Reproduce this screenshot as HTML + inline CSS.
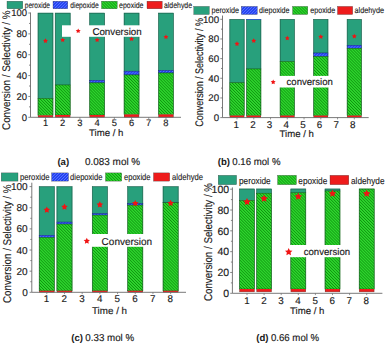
<!DOCTYPE html>
<html><head><meta charset="utf-8"><style>
html,body{margin:0;padding:0;background:#fff;}
svg{display:block;font-family:"Liberation Sans", sans-serif;text-rendering:geometricPrecision;}
</style></head><body>
<svg width="386" height="345" viewBox="0 0 386 345">
<defs>
<pattern id="grn" patternUnits="userSpaceOnUse" width="2.1" height="3" patternTransform="rotate(-45)">
<rect width="2.1" height="3" fill="#30da30"/><rect width="0.8" height="3" fill="#0e920e"/>
</pattern>
<pattern id="blu" patternUnits="userSpaceOnUse" width="2.1" height="3" patternTransform="rotate(45)">
<rect width="2.1" height="3" fill="#1f3cf0"/><rect width="0.8" height="3" fill="#5a78ff"/>
</pattern>
<pattern id="blub" patternUnits="userSpaceOnUse" width="2.1" height="3" patternTransform="rotate(-45)">
<rect width="2.1" height="3" fill="#2848ff"/><rect width="0.8" height="3" fill="#1428b0"/>
</pattern>
</defs>
<rect x="37.95" y="13.00" width="15.10" height="85.53" fill="#28a07c" stroke="#1f6f58" stroke-width="0.5"/>
<rect x="37.95" y="98.53" width="15.10" height="16.90" fill="url(#grn)" stroke="#0a600a" stroke-width="0.5"/>
<rect x="37.95" y="115.42" width="15.10" height="1.88" fill="#ee1c1c"/>
<rect x="38.20" y="13.25" width="14.60" height="104.05" fill="none" stroke="#1d4a3c" stroke-opacity="0.55" stroke-width="0.5"/>
<rect x="55.16" y="13.00" width="15.10" height="71.97" fill="#28a07c" stroke="#1f6f58" stroke-width="0.5"/>
<rect x="55.16" y="84.97" width="15.10" height="30.04" fill="url(#grn)" stroke="#0a600a" stroke-width="0.5"/>
<rect x="55.16" y="115.01" width="15.10" height="2.29" fill="#ee1c1c"/>
<rect x="55.41" y="13.25" width="14.60" height="104.05" fill="none" stroke="#1d4a3c" stroke-opacity="0.55" stroke-width="0.5"/>
<rect x="89.58" y="13.00" width="15.10" height="67.38" fill="#28a07c" stroke="#1f6f58" stroke-width="0.5"/>
<rect x="89.58" y="80.38" width="15.10" height="2.50" fill="url(#blu)" stroke="#10208a" stroke-width="0.5"/>
<rect x="89.58" y="82.88" width="15.10" height="32.12" fill="url(#grn)" stroke="#0a600a" stroke-width="0.5"/>
<rect x="89.58" y="115.01" width="15.10" height="2.29" fill="#ee1c1c"/>
<rect x="89.83" y="13.25" width="14.60" height="104.05" fill="none" stroke="#1d4a3c" stroke-opacity="0.55" stroke-width="0.5"/>
<rect x="124.00" y="13.00" width="15.10" height="58.20" fill="#28a07c" stroke="#1f6f58" stroke-width="0.5"/>
<rect x="124.00" y="71.20" width="15.10" height="3.75" fill="url(#blu)" stroke="#10208a" stroke-width="0.5"/>
<rect x="124.00" y="74.95" width="15.10" height="39.53" fill="url(#grn)" stroke="#0a600a" stroke-width="0.5"/>
<rect x="124.00" y="114.48" width="15.10" height="2.82" fill="#ee1c1c"/>
<rect x="124.25" y="13.25" width="14.60" height="104.05" fill="none" stroke="#1d4a3c" stroke-opacity="0.55" stroke-width="0.5"/>
<rect x="158.42" y="13.00" width="15.10" height="57.47" fill="#28a07c" stroke="#1f6f58" stroke-width="0.5"/>
<rect x="158.42" y="70.47" width="15.10" height="2.50" fill="url(#blu)" stroke="#10208a" stroke-width="0.5"/>
<rect x="158.42" y="72.97" width="15.10" height="41.51" fill="url(#grn)" stroke="#0a600a" stroke-width="0.5"/>
<rect x="158.42" y="114.48" width="15.10" height="2.82" fill="#ee1c1c"/>
<rect x="158.67" y="13.25" width="14.60" height="104.05" fill="none" stroke="#1d4a3c" stroke-opacity="0.55" stroke-width="0.5"/>
<rect x="62" y="25.3" width="94" height="11.499999999999996" fill="#fff"/>
<polygon points="45.50,38.30 46.26,39.85 47.97,40.10 46.74,41.30 47.03,43.00 45.50,42.20 43.97,43.00 44.26,41.30 43.03,40.10 44.74,39.85" fill="#f01414"/>
<polygon points="62.71,37.40 63.47,38.95 65.18,39.20 63.95,40.40 64.24,42.10 62.71,41.30 61.18,42.10 61.47,40.40 60.24,39.20 61.95,38.95" fill="#f01414"/>
<polygon points="97.13,37.40 97.89,38.95 99.60,39.20 98.37,40.40 98.66,42.10 97.13,41.30 95.60,42.10 95.89,40.40 94.66,39.20 96.37,38.95" fill="#f01414"/>
<polygon points="131.55,36.40 132.31,37.95 134.02,38.20 132.79,39.40 133.08,41.10 131.55,40.30 130.02,41.10 130.31,39.40 129.08,38.20 130.79,37.95" fill="#f01414"/>
<polygon points="165.97,34.40 166.73,35.95 168.44,36.20 167.21,37.40 167.50,39.10 165.97,38.30 164.44,39.10 164.73,37.40 163.50,36.20 165.21,35.95" fill="#f01414"/>
<polygon points="78.20,28.40 78.96,29.95 80.67,30.20 79.44,31.40 79.73,33.10 78.20,32.30 76.67,33.10 76.96,31.40 75.73,30.20 77.44,29.95" fill="#f01414"/>
<text x="92.4" y="34.6" font-size="9.75" text-anchor="start" font-weight="normal" stroke="#1a1a1a" stroke-width="0.15" fill="#1a1a1a">Conversion</text>
<line x1="30.5" y1="12.5" x2="30.5" y2="117.3" stroke="#6a6a6a" stroke-width="0.9"/>
<line x1="30.5" y1="117.3" x2="181" y2="117.3" stroke="#6a6a6a" stroke-width="0.9"/>
<line x1="28.3" y1="117.30" x2="30.5" y2="117.30" stroke="#6a6a6a" stroke-width="0.8"/>
<line x1="29.0" y1="106.87" x2="30.5" y2="106.87" stroke="#6a6a6a" stroke-width="0.8"/>
<line x1="28.3" y1="96.44" x2="30.5" y2="96.44" stroke="#6a6a6a" stroke-width="0.8"/>
<line x1="29.0" y1="86.01" x2="30.5" y2="86.01" stroke="#6a6a6a" stroke-width="0.8"/>
<line x1="28.3" y1="75.58" x2="30.5" y2="75.58" stroke="#6a6a6a" stroke-width="0.8"/>
<line x1="29.0" y1="65.15" x2="30.5" y2="65.15" stroke="#6a6a6a" stroke-width="0.8"/>
<line x1="28.3" y1="54.72" x2="30.5" y2="54.72" stroke="#6a6a6a" stroke-width="0.8"/>
<line x1="29.0" y1="44.29" x2="30.5" y2="44.29" stroke="#6a6a6a" stroke-width="0.8"/>
<line x1="28.3" y1="33.86" x2="30.5" y2="33.86" stroke="#6a6a6a" stroke-width="0.8"/>
<line x1="29.0" y1="23.43" x2="30.5" y2="23.43" stroke="#6a6a6a" stroke-width="0.8"/>
<line x1="28.3" y1="13.00" x2="30.5" y2="13.00" stroke="#6a6a6a" stroke-width="0.8"/>
<text x="27.0" y="120.72" font-size="9.5" text-anchor="end" font-weight="normal" stroke="#1a1a1a" stroke-width="0.15" fill="#1a1a1a">0</text>
<text x="27.0" y="99.86" font-size="9.5" text-anchor="end" font-weight="normal" stroke="#1a1a1a" stroke-width="0.15" fill="#1a1a1a">20</text>
<text x="27.0" y="79.00" font-size="9.5" text-anchor="end" font-weight="normal" stroke="#1a1a1a" stroke-width="0.15" fill="#1a1a1a">40</text>
<text x="27.0" y="58.14" font-size="9.5" text-anchor="end" font-weight="normal" stroke="#1a1a1a" stroke-width="0.15" fill="#1a1a1a">60</text>
<text x="27.0" y="37.28" font-size="9.5" text-anchor="end" font-weight="normal" stroke="#1a1a1a" stroke-width="0.15" fill="#1a1a1a">80</text>
<text x="27.0" y="16.42" font-size="9.5" text-anchor="end" font-weight="normal" stroke="#1a1a1a" stroke-width="0.15" fill="#1a1a1a">100</text>
<line x1="45.50" y1="117.3" x2="45.50" y2="119.10" stroke="#6a6a6a" stroke-width="0.7"/>
<line x1="62.71" y1="117.3" x2="62.71" y2="119.10" stroke="#6a6a6a" stroke-width="0.7"/>
<line x1="79.92" y1="117.3" x2="79.92" y2="119.10" stroke="#6a6a6a" stroke-width="0.7"/>
<line x1="97.13" y1="117.3" x2="97.13" y2="119.10" stroke="#6a6a6a" stroke-width="0.7"/>
<line x1="114.34" y1="117.3" x2="114.34" y2="119.10" stroke="#6a6a6a" stroke-width="0.7"/>
<line x1="131.55" y1="117.3" x2="131.55" y2="119.10" stroke="#6a6a6a" stroke-width="0.7"/>
<line x1="148.76" y1="117.3" x2="148.76" y2="119.10" stroke="#6a6a6a" stroke-width="0.7"/>
<line x1="165.97" y1="117.3" x2="165.97" y2="119.10" stroke="#6a6a6a" stroke-width="0.7"/>
<text x="45.50" y="125.9" font-size="9.4" text-anchor="middle" font-weight="normal" stroke="#1a1a1a" stroke-width="0.15" fill="#1a1a1a">1</text>
<text x="62.70" y="125.9" font-size="9.4" text-anchor="middle" font-weight="normal" stroke="#1a1a1a" stroke-width="0.15" fill="#1a1a1a">2</text>
<text x="79.90" y="125.9" font-size="9.4" text-anchor="middle" font-weight="normal" stroke="#1a1a1a" stroke-width="0.15" fill="#1a1a1a">3</text>
<text x="97.10" y="125.9" font-size="9.4" text-anchor="middle" font-weight="normal" stroke="#1a1a1a" stroke-width="0.15" fill="#1a1a1a">4</text>
<text x="114.30" y="125.9" font-size="9.4" text-anchor="middle" font-weight="normal" stroke="#1a1a1a" stroke-width="0.15" fill="#1a1a1a">5</text>
<text x="131.50" y="125.9" font-size="9.4" text-anchor="middle" font-weight="normal" stroke="#1a1a1a" stroke-width="0.15" fill="#1a1a1a">6</text>
<text x="148.70" y="125.9" font-size="9.4" text-anchor="middle" font-weight="normal" stroke="#1a1a1a" stroke-width="0.15" fill="#1a1a1a">7</text>
<text x="165.90" y="125.9" font-size="9.4" text-anchor="middle" font-weight="normal" stroke="#1a1a1a" stroke-width="0.15" fill="#1a1a1a">8</text>
<text x="89" y="136" font-size="9.6" text-anchor="start" font-weight="normal" stroke="#1a1a1a" stroke-width="0.15" fill="#1a1a1a">Time / h</text>
<text transform="translate(10.0,130) rotate(-90)" font-size="11.0" textLength="119.6" lengthAdjust="spacingAndGlyphs" fill="#1a1a1a" stroke="#1a1a1a" stroke-width="0.15">Conversion / Selectivity / %</text>
<rect x="7" y="1.2" width="15.8" height="7.6" fill="#28a07c" stroke="#333" stroke-width="0.3"/>
<text x="24.8" y="7.8" font-size="8.2" textLength="25.2" lengthAdjust="spacingAndGlyphs" fill="#1a1a1a" stroke="#1a1a1a" stroke-width="0.12">peroxide</text>
<rect x="53" y="1.2" width="14.8" height="7.6" fill="url(#blu)" stroke="#333" stroke-width="0.3"/>
<text x="70.2" y="7.8" font-size="8.2" textLength="28.6" lengthAdjust="spacingAndGlyphs" fill="#1a1a1a" stroke="#1a1a1a" stroke-width="0.12">diepoxide</text>
<rect x="101.5" y="1.2" width="15.7" height="7.6" fill="url(#grn)" stroke="#333" stroke-width="0.3"/>
<text x="119" y="7.8" font-size="8.2" textLength="24.5" lengthAdjust="spacingAndGlyphs" fill="#1a1a1a" stroke="#1a1a1a" stroke-width="0.12">epoxide</text>
<rect x="147" y="1.2" width="15.2" height="7.6" fill="#ee1c1c" stroke="#333" stroke-width="0.3"/>
<text x="164" y="7.8" font-size="8.2" textLength="28" lengthAdjust="spacingAndGlyphs" fill="#1a1a1a" stroke="#1a1a1a" stroke-width="0.12">aldehyde</text>
<text x="57.4" y="164.8" font-size="9.60" font-weight="bold" fill="#1a1a1a">(a)</text>
<text x="85" y="164.8" font-size="10.0" textLength="55.2" lengthAdjust="spacingAndGlyphs" fill="#1a1a1a" stroke="#1a1a1a" stroke-width="0.15">0.083 mol %</text>
<rect x="229.75" y="19.30" width="14.50" height="63.50" fill="#28a07c" stroke="#1f6f58" stroke-width="0.5"/>
<rect x="229.75" y="82.80" width="14.50" height="32.83" fill="url(#grn)" stroke="#0a600a" stroke-width="0.5"/>
<rect x="229.75" y="115.63" width="14.50" height="1.97" fill="#ee1c1c"/>
<rect x="230.00" y="19.55" width="14.00" height="98.05" fill="none" stroke="#1d4a3c" stroke-opacity="0.55" stroke-width="0.5"/>
<rect x="246.51" y="19.30" width="14.50" height="49.64" fill="#28a07c" stroke="#1f6f58" stroke-width="0.5"/>
<rect x="246.51" y="68.94" width="14.50" height="46.69" fill="url(#grn)" stroke="#0a600a" stroke-width="0.5"/>
<rect x="246.51" y="115.63" width="14.50" height="1.97" fill="#ee1c1c"/>
<rect x="246.76" y="19.55" width="14.00" height="98.05" fill="none" stroke="#1d4a3c" stroke-opacity="0.55" stroke-width="0.5"/>
<rect x="280.03" y="19.30" width="14.50" height="42.27" fill="#28a07c" stroke="#1f6f58" stroke-width="0.5"/>
<rect x="280.03" y="61.57" width="14.50" height="54.07" fill="url(#grn)" stroke="#0a600a" stroke-width="0.5"/>
<rect x="280.03" y="115.63" width="14.50" height="1.97" fill="#ee1c1c"/>
<rect x="280.28" y="19.55" width="14.00" height="98.05" fill="none" stroke="#1d4a3c" stroke-opacity="0.55" stroke-width="0.5"/>
<rect x="313.55" y="19.30" width="14.50" height="33.72" fill="#28a07c" stroke="#1f6f58" stroke-width="0.5"/>
<rect x="313.55" y="53.02" width="14.50" height="3.54" fill="url(#blu)" stroke="#10208a" stroke-width="0.5"/>
<rect x="313.55" y="56.56" width="14.50" height="59.08" fill="url(#grn)" stroke="#0a600a" stroke-width="0.5"/>
<rect x="313.55" y="115.63" width="14.50" height="1.97" fill="#ee1c1c"/>
<rect x="313.80" y="19.55" width="14.00" height="98.05" fill="none" stroke="#1d4a3c" stroke-opacity="0.55" stroke-width="0.5"/>
<rect x="347.07" y="19.30" width="14.50" height="25.95" fill="#28a07c" stroke="#1f6f58" stroke-width="0.5"/>
<rect x="347.07" y="45.25" width="14.50" height="3.15" fill="url(#blu)" stroke="#10208a" stroke-width="0.5"/>
<rect x="347.07" y="48.40" width="14.50" height="67.24" fill="url(#grn)" stroke="#0a600a" stroke-width="0.5"/>
<rect x="347.07" y="115.63" width="14.50" height="1.97" fill="#ee1c1c"/>
<rect x="347.32" y="19.55" width="14.00" height="98.05" fill="none" stroke="#1d4a3c" stroke-opacity="0.55" stroke-width="0.5"/>
<rect x="246.51" y="19.30" width="14.50" height="0.59" fill="#2848ff"/>
<rect x="262" y="75.9" width="83" height="11.599999999999994" fill="#fff"/>
<polygon points="237.00,41.30 237.76,42.85 239.47,43.10 238.24,44.30 238.53,46.00 237.00,45.20 235.47,46.00 235.76,44.30 234.53,43.10 236.24,42.85" fill="#f01414"/>
<polygon points="253.76,38.20 254.52,39.75 256.23,40.00 255.00,41.20 255.29,42.90 253.76,42.10 252.23,42.90 252.52,41.20 251.29,40.00 253.00,39.75" fill="#f01414"/>
<polygon points="287.28,35.60 288.04,37.15 289.75,37.40 288.52,38.60 288.81,40.30 287.28,39.50 285.75,40.30 286.04,38.60 284.81,37.40 286.52,37.15" fill="#f01414"/>
<polygon points="320.80,34.20 321.56,35.75 323.27,36.00 322.04,37.20 322.33,38.90 320.80,38.10 319.27,38.90 319.56,37.20 318.33,36.00 320.04,35.75" fill="#f01414"/>
<polygon points="354.32,33.70 355.08,35.25 356.79,35.50 355.56,36.70 355.85,38.40 354.32,37.60 352.79,38.40 353.08,36.70 351.85,35.50 353.56,35.25" fill="#f01414"/>
<polygon points="273.20,79.50 273.96,81.05 275.67,81.30 274.44,82.50 274.73,84.20 273.20,83.40 271.67,84.20 271.96,82.50 270.73,81.30 272.44,81.05" fill="#f01414"/>
<text x="286.5" y="85.2" font-size="9.6" text-anchor="start" font-weight="normal" stroke="#1a1a1a" stroke-width="0.15" fill="#1a1a1a">conversion</text>
<line x1="222.5" y1="15.5" x2="222.5" y2="117.6" stroke="#6a6a6a" stroke-width="0.9"/>
<line x1="222.5" y1="117.6" x2="368.7" y2="117.6" stroke="#6a6a6a" stroke-width="0.9"/>
<line x1="220.3" y1="117.60" x2="222.5" y2="117.60" stroke="#6a6a6a" stroke-width="0.8"/>
<line x1="221.0" y1="107.77" x2="222.5" y2="107.77" stroke="#6a6a6a" stroke-width="0.8"/>
<line x1="220.3" y1="97.94" x2="222.5" y2="97.94" stroke="#6a6a6a" stroke-width="0.8"/>
<line x1="221.0" y1="88.11" x2="222.5" y2="88.11" stroke="#6a6a6a" stroke-width="0.8"/>
<line x1="220.3" y1="78.28" x2="222.5" y2="78.28" stroke="#6a6a6a" stroke-width="0.8"/>
<line x1="221.0" y1="68.45" x2="222.5" y2="68.45" stroke="#6a6a6a" stroke-width="0.8"/>
<line x1="220.3" y1="58.62" x2="222.5" y2="58.62" stroke="#6a6a6a" stroke-width="0.8"/>
<line x1="221.0" y1="48.79" x2="222.5" y2="48.79" stroke="#6a6a6a" stroke-width="0.8"/>
<line x1="220.3" y1="38.96" x2="222.5" y2="38.96" stroke="#6a6a6a" stroke-width="0.8"/>
<line x1="221.0" y1="29.13" x2="222.5" y2="29.13" stroke="#6a6a6a" stroke-width="0.8"/>
<line x1="220.3" y1="19.30" x2="222.5" y2="19.30" stroke="#6a6a6a" stroke-width="0.8"/>
<text x="219.1" y="121.09" font-size="9.7" text-anchor="end" font-weight="normal" stroke="#1a1a1a" stroke-width="0.15" fill="#1a1a1a">0</text>
<text x="219.1" y="101.43" font-size="9.7" text-anchor="end" font-weight="normal" stroke="#1a1a1a" stroke-width="0.15" fill="#1a1a1a">20</text>
<text x="219.1" y="81.77" font-size="9.7" text-anchor="end" font-weight="normal" stroke="#1a1a1a" stroke-width="0.15" fill="#1a1a1a">40</text>
<text x="219.1" y="62.11" font-size="9.7" text-anchor="end" font-weight="normal" stroke="#1a1a1a" stroke-width="0.15" fill="#1a1a1a">60</text>
<text x="219.1" y="42.45" font-size="9.7" text-anchor="end" font-weight="normal" stroke="#1a1a1a" stroke-width="0.15" fill="#1a1a1a">80</text>
<text x="219.1" y="22.79" font-size="9.7" text-anchor="end" font-weight="normal" stroke="#1a1a1a" stroke-width="0.15" fill="#1a1a1a">100</text>
<line x1="237.00" y1="117.6" x2="237.00" y2="119.40" stroke="#6a6a6a" stroke-width="0.7"/>
<line x1="253.76" y1="117.6" x2="253.76" y2="119.40" stroke="#6a6a6a" stroke-width="0.7"/>
<line x1="270.52" y1="117.6" x2="270.52" y2="119.40" stroke="#6a6a6a" stroke-width="0.7"/>
<line x1="287.28" y1="117.6" x2="287.28" y2="119.40" stroke="#6a6a6a" stroke-width="0.7"/>
<line x1="304.04" y1="117.6" x2="304.04" y2="119.40" stroke="#6a6a6a" stroke-width="0.7"/>
<line x1="320.80" y1="117.6" x2="320.80" y2="119.40" stroke="#6a6a6a" stroke-width="0.7"/>
<line x1="337.56" y1="117.6" x2="337.56" y2="119.40" stroke="#6a6a6a" stroke-width="0.7"/>
<line x1="354.32" y1="117.6" x2="354.32" y2="119.40" stroke="#6a6a6a" stroke-width="0.7"/>
<text x="236.30" y="128.0" font-size="9.8" text-anchor="middle" font-weight="normal" stroke="#1a1a1a" stroke-width="0.15" fill="#1a1a1a">1</text>
<text x="252.95" y="128.0" font-size="9.8" text-anchor="middle" font-weight="normal" stroke="#1a1a1a" stroke-width="0.15" fill="#1a1a1a">2</text>
<text x="269.60" y="128.0" font-size="9.8" text-anchor="middle" font-weight="normal" stroke="#1a1a1a" stroke-width="0.15" fill="#1a1a1a">3</text>
<text x="286.25" y="128.0" font-size="9.8" text-anchor="middle" font-weight="normal" stroke="#1a1a1a" stroke-width="0.15" fill="#1a1a1a">4</text>
<text x="302.90" y="128.0" font-size="9.8" text-anchor="middle" font-weight="normal" stroke="#1a1a1a" stroke-width="0.15" fill="#1a1a1a">5</text>
<text x="319.55" y="128.0" font-size="9.8" text-anchor="middle" font-weight="normal" stroke="#1a1a1a" stroke-width="0.15" fill="#1a1a1a">6</text>
<text x="336.20" y="128.0" font-size="9.8" text-anchor="middle" font-weight="normal" stroke="#1a1a1a" stroke-width="0.15" fill="#1a1a1a">7</text>
<text x="352.85" y="128.0" font-size="9.8" text-anchor="middle" font-weight="normal" stroke="#1a1a1a" stroke-width="0.15" fill="#1a1a1a">8</text>
<text x="279.5" y="136.8" font-size="9.6" text-anchor="start" font-weight="normal" stroke="#1a1a1a" stroke-width="0.15" fill="#1a1a1a">Time / h</text>
<text transform="translate(203.4,126.8) rotate(-90)" font-size="11.0" textLength="108.8" lengthAdjust="spacingAndGlyphs" fill="#1a1a1a" stroke="#1a1a1a" stroke-width="0.15">Conversion / Selectivity / %</text>
<rect x="193.8" y="6.4" width="15.5" height="8.1" fill="#28a07c" stroke="#333" stroke-width="0.3"/>
<text x="211.5" y="13.0" font-size="8.3" textLength="27.5" lengthAdjust="spacingAndGlyphs" fill="#1a1a1a" stroke="#1a1a1a" stroke-width="0.12">peroxide</text>
<rect x="241.3" y="6.4" width="16" height="8.1" fill="url(#blu)" stroke="#333" stroke-width="0.3"/>
<text x="259" y="13.0" font-size="8.3" textLength="30.5" lengthAdjust="spacingAndGlyphs" fill="#1a1a1a" stroke="#1a1a1a" stroke-width="0.12">diepoxide</text>
<rect x="292.6" y="6.4" width="15.2" height="8.1" fill="url(#grn)" stroke="#333" stroke-width="0.3"/>
<text x="310.3" y="13.0" font-size="8.3" textLength="24.9" lengthAdjust="spacingAndGlyphs" fill="#1a1a1a" stroke="#1a1a1a" stroke-width="0.12">epoxide</text>
<rect x="337.5" y="6.4" width="15.2" height="8.1" fill="#ee1c1c" stroke="#333" stroke-width="0.3"/>
<text x="354.5" y="13.0" font-size="8.3" textLength="29.5" lengthAdjust="spacingAndGlyphs" fill="#1a1a1a" stroke="#1a1a1a" stroke-width="0.12">aldehyde</text>
<text x="217.7" y="164.8" font-size="9.60" font-weight="bold" fill="#1a1a1a">(b)</text>
<text x="232.3" y="164.8" font-size="10.0" textLength="48.2" lengthAdjust="spacingAndGlyphs" fill="#1a1a1a" stroke="#1a1a1a" stroke-width="0.15">0.16 mol %</text>
<rect x="39.15" y="186.60" width="15.30" height="48.73" fill="#28a07c" stroke="#1f6f58" stroke-width="0.5"/>
<rect x="39.15" y="235.33" width="15.30" height="2.22" fill="url(#blu)" stroke="#10208a" stroke-width="0.5"/>
<rect x="39.15" y="237.55" width="15.30" height="53.27" fill="url(#grn)" stroke="#0a600a" stroke-width="0.5"/>
<rect x="39.15" y="290.82" width="15.30" height="1.48" fill="#ee1c1c"/>
<rect x="39.40" y="186.85" width="14.80" height="105.45" fill="none" stroke="#1d4a3c" stroke-opacity="0.55" stroke-width="0.5"/>
<rect x="56.84" y="186.60" width="15.30" height="35.52" fill="#28a07c" stroke="#1f6f58" stroke-width="0.5"/>
<rect x="56.84" y="222.12" width="15.30" height="2.01" fill="url(#blu)" stroke="#10208a" stroke-width="0.5"/>
<rect x="56.84" y="224.12" width="15.30" height="66.70" fill="url(#grn)" stroke="#0a600a" stroke-width="0.5"/>
<rect x="56.84" y="290.82" width="15.30" height="1.48" fill="#ee1c1c"/>
<rect x="57.09" y="186.85" width="14.80" height="105.45" fill="none" stroke="#1d4a3c" stroke-opacity="0.55" stroke-width="0.5"/>
<rect x="92.22" y="186.60" width="15.30" height="27.06" fill="#28a07c" stroke="#1f6f58" stroke-width="0.5"/>
<rect x="92.22" y="213.66" width="15.30" height="1.48" fill="url(#blu)" stroke="#10208a" stroke-width="0.5"/>
<rect x="92.22" y="215.14" width="15.30" height="75.68" fill="url(#grn)" stroke="#0a600a" stroke-width="0.5"/>
<rect x="92.22" y="290.82" width="15.30" height="1.48" fill="#ee1c1c"/>
<rect x="92.47" y="186.85" width="14.80" height="105.45" fill="none" stroke="#1d4a3c" stroke-opacity="0.55" stroke-width="0.5"/>
<rect x="127.60" y="186.60" width="15.30" height="17.02" fill="#28a07c" stroke="#1f6f58" stroke-width="0.5"/>
<rect x="127.60" y="203.62" width="15.30" height="1.48" fill="url(#blu)" stroke="#10208a" stroke-width="0.5"/>
<rect x="127.60" y="205.10" width="15.30" height="85.72" fill="url(#grn)" stroke="#0a600a" stroke-width="0.5"/>
<rect x="127.60" y="290.82" width="15.30" height="1.48" fill="#ee1c1c"/>
<rect x="127.85" y="186.85" width="14.80" height="105.45" fill="none" stroke="#1d4a3c" stroke-opacity="0.55" stroke-width="0.5"/>
<rect x="162.98" y="186.60" width="15.30" height="15.64" fill="#28a07c" stroke="#1f6f58" stroke-width="0.5"/>
<rect x="162.98" y="202.24" width="15.30" height="0.42" fill="url(#blu)" stroke="#10208a" stroke-width="0.5"/>
<rect x="162.98" y="202.67" width="15.30" height="88.15" fill="url(#grn)" stroke="#0a600a" stroke-width="0.5"/>
<rect x="162.98" y="290.82" width="15.30" height="1.48" fill="#ee1c1c"/>
<rect x="163.23" y="186.85" width="14.80" height="105.45" fill="none" stroke="#1d4a3c" stroke-opacity="0.55" stroke-width="0.5"/>
<rect x="74" y="234" width="86" height="12.800000000000011" fill="#fff"/>
<polygon points="46.80,206.60 47.80,208.62 50.03,208.95 48.42,210.53 48.80,212.75 46.80,211.70 44.80,212.75 45.18,210.53 43.57,208.95 45.80,208.62" fill="#f01414"/>
<polygon points="64.49,203.60 65.49,205.62 67.72,205.95 66.11,207.53 66.49,209.75 64.49,208.70 62.49,209.75 62.87,207.53 61.26,205.95 63.49,205.62" fill="#f01414"/>
<polygon points="99.87,201.30 100.87,203.32 103.10,203.65 101.49,205.23 101.87,207.45 99.87,206.40 97.87,207.45 98.25,205.23 96.64,203.65 98.87,203.32" fill="#f01414"/>
<polygon points="135.25,200.00 136.25,202.02 138.48,202.35 136.87,203.93 137.25,206.15 135.25,205.10 133.25,206.15 133.63,203.93 132.02,202.35 134.25,202.02" fill="#f01414"/>
<polygon points="170.63,199.80 171.63,201.82 173.86,202.15 172.25,203.73 172.63,205.95 170.63,204.90 168.63,205.95 169.01,203.73 167.40,202.15 169.63,201.82" fill="#f01414"/>
<polygon points="86.80,237.80 87.77,239.77 89.94,240.08 88.37,241.61 88.74,243.77 86.80,242.75 84.86,243.77 85.23,241.61 83.66,240.08 85.83,239.77" fill="#f01414"/>
<text x="101.6" y="244.7" font-size="10.0" text-anchor="start" font-weight="normal" stroke="#1a1a1a" stroke-width="0.15" fill="#1a1a1a">Conversion</text>
<line x1="31.8" y1="182.7" x2="31.8" y2="292.3" stroke="#6a6a6a" stroke-width="0.9"/>
<line x1="31.8" y1="292.3" x2="186" y2="292.3" stroke="#6a6a6a" stroke-width="0.9"/>
<line x1="29.6" y1="292.30" x2="31.8" y2="292.30" stroke="#6a6a6a" stroke-width="0.8"/>
<line x1="30.3" y1="281.73" x2="31.8" y2="281.73" stroke="#6a6a6a" stroke-width="0.8"/>
<line x1="29.6" y1="271.16" x2="31.8" y2="271.16" stroke="#6a6a6a" stroke-width="0.8"/>
<line x1="30.3" y1="260.59" x2="31.8" y2="260.59" stroke="#6a6a6a" stroke-width="0.8"/>
<line x1="29.6" y1="250.02" x2="31.8" y2="250.02" stroke="#6a6a6a" stroke-width="0.8"/>
<line x1="30.3" y1="239.45" x2="31.8" y2="239.45" stroke="#6a6a6a" stroke-width="0.8"/>
<line x1="29.6" y1="228.88" x2="31.8" y2="228.88" stroke="#6a6a6a" stroke-width="0.8"/>
<line x1="30.3" y1="218.31" x2="31.8" y2="218.31" stroke="#6a6a6a" stroke-width="0.8"/>
<line x1="29.6" y1="207.74" x2="31.8" y2="207.74" stroke="#6a6a6a" stroke-width="0.8"/>
<line x1="30.3" y1="197.17" x2="31.8" y2="197.17" stroke="#6a6a6a" stroke-width="0.8"/>
<line x1="29.6" y1="186.60" x2="31.8" y2="186.60" stroke="#6a6a6a" stroke-width="0.8"/>
<text x="27.7" y="295.90" font-size="10.0" text-anchor="end" font-weight="normal" stroke="#1a1a1a" stroke-width="0.15" fill="#1a1a1a">0</text>
<text x="27.7" y="274.76" font-size="10.0" text-anchor="end" font-weight="normal" stroke="#1a1a1a" stroke-width="0.15" fill="#1a1a1a">20</text>
<text x="27.7" y="253.62" font-size="10.0" text-anchor="end" font-weight="normal" stroke="#1a1a1a" stroke-width="0.15" fill="#1a1a1a">40</text>
<text x="27.7" y="232.48" font-size="10.0" text-anchor="end" font-weight="normal" stroke="#1a1a1a" stroke-width="0.15" fill="#1a1a1a">60</text>
<text x="27.7" y="211.34" font-size="10.0" text-anchor="end" font-weight="normal" stroke="#1a1a1a" stroke-width="0.15" fill="#1a1a1a">80</text>
<text x="27.7" y="190.20" font-size="10.0" text-anchor="end" font-weight="normal" stroke="#1a1a1a" stroke-width="0.15" fill="#1a1a1a">100</text>
<line x1="46.80" y1="292.3" x2="46.80" y2="294.10" stroke="#6a6a6a" stroke-width="0.7"/>
<line x1="64.49" y1="292.3" x2="64.49" y2="294.10" stroke="#6a6a6a" stroke-width="0.7"/>
<line x1="82.18" y1="292.3" x2="82.18" y2="294.10" stroke="#6a6a6a" stroke-width="0.7"/>
<line x1="99.87" y1="292.3" x2="99.87" y2="294.10" stroke="#6a6a6a" stroke-width="0.7"/>
<line x1="117.56" y1="292.3" x2="117.56" y2="294.10" stroke="#6a6a6a" stroke-width="0.7"/>
<line x1="135.25" y1="292.3" x2="135.25" y2="294.10" stroke="#6a6a6a" stroke-width="0.7"/>
<line x1="152.94" y1="292.3" x2="152.94" y2="294.10" stroke="#6a6a6a" stroke-width="0.7"/>
<line x1="170.63" y1="292.3" x2="170.63" y2="294.10" stroke="#6a6a6a" stroke-width="0.7"/>
<text x="46.60" y="302.2" font-size="9.8" text-anchor="middle" font-weight="normal" stroke="#1a1a1a" stroke-width="0.15" fill="#1a1a1a">1</text>
<text x="64.27" y="302.2" font-size="9.8" text-anchor="middle" font-weight="normal" stroke="#1a1a1a" stroke-width="0.15" fill="#1a1a1a">2</text>
<text x="81.94" y="302.2" font-size="9.8" text-anchor="middle" font-weight="normal" stroke="#1a1a1a" stroke-width="0.15" fill="#1a1a1a">3</text>
<text x="99.61" y="302.2" font-size="9.8" text-anchor="middle" font-weight="normal" stroke="#1a1a1a" stroke-width="0.15" fill="#1a1a1a">4</text>
<text x="117.28" y="302.2" font-size="9.8" text-anchor="middle" font-weight="normal" stroke="#1a1a1a" stroke-width="0.15" fill="#1a1a1a">5</text>
<text x="134.95" y="302.2" font-size="9.8" text-anchor="middle" font-weight="normal" stroke="#1a1a1a" stroke-width="0.15" fill="#1a1a1a">6</text>
<text x="152.62" y="302.2" font-size="9.8" text-anchor="middle" font-weight="normal" stroke="#1a1a1a" stroke-width="0.15" fill="#1a1a1a">7</text>
<text x="170.29" y="302.2" font-size="9.8" text-anchor="middle" font-weight="normal" stroke="#1a1a1a" stroke-width="0.15" fill="#1a1a1a">8</text>
<text x="92" y="314" font-size="9.8" text-anchor="start" font-weight="normal" stroke="#1a1a1a" stroke-width="0.15" fill="#1a1a1a">Time / h</text>
<text transform="translate(10.8,303) rotate(-90)" font-size="11.2" textLength="118.5" lengthAdjust="spacingAndGlyphs" fill="#1a1a1a" stroke="#1a1a1a" stroke-width="0.15">Conversion / Selectivity / %</text>
<rect x="1.2" y="172.9" width="16.8" height="8.2" fill="#28a07c" stroke="#333" stroke-width="0.3"/>
<text x="20" y="179.8" font-size="8.8" textLength="29.5" lengthAdjust="spacingAndGlyphs" fill="#1a1a1a" stroke="#1a1a1a" stroke-width="0.12">peroxide</text>
<rect x="51.6" y="172.9" width="16.9" height="8.2" fill="url(#blu)" stroke="#333" stroke-width="0.3"/>
<text x="70" y="179.8" font-size="8.8" textLength="32.5" lengthAdjust="spacingAndGlyphs" fill="#1a1a1a" stroke="#1a1a1a" stroke-width="0.12">diepoxide</text>
<rect x="105.5" y="172.9" width="16.2" height="8.2" fill="url(#grn)" stroke="#333" stroke-width="0.3"/>
<text x="124" y="179.8" font-size="8.8" textLength="26.5" lengthAdjust="spacingAndGlyphs" fill="#1a1a1a" stroke="#1a1a1a" stroke-width="0.12">epoxide</text>
<rect x="153.5" y="172.9" width="16.2" height="8.2" fill="#ee1c1c" stroke="#333" stroke-width="0.3"/>
<text x="172" y="179.8" font-size="8.8" textLength="31" lengthAdjust="spacingAndGlyphs" fill="#1a1a1a" stroke="#1a1a1a" stroke-width="0.12">aldehyde</text>
<text x="71.2" y="341.0" font-size="9.60" font-weight="bold" fill="#1a1a1a">(c)</text>
<text x="85.3" y="341.0" font-size="10.0" textLength="48.9" lengthAdjust="spacingAndGlyphs" fill="#1a1a1a" stroke="#1a1a1a" stroke-width="0.15">0.33 mol %</text>
<rect x="239.45" y="188.90" width="15.10" height="11.64" fill="#28a07c" stroke="#1f6f58" stroke-width="0.5"/>
<rect x="239.45" y="200.54" width="15.10" height="88.48" fill="url(#grn)" stroke="#0a600a" stroke-width="0.5"/>
<rect x="239.45" y="289.02" width="15.10" height="2.88" fill="#ee1c1c"/>
<rect x="239.70" y="189.15" width="14.60" height="102.75" fill="none" stroke="#1d4a3c" stroke-opacity="0.55" stroke-width="0.5"/>
<rect x="256.55" y="188.90" width="15.10" height="4.33" fill="#28a07c" stroke="#1f6f58" stroke-width="0.5"/>
<rect x="256.55" y="193.23" width="15.10" height="95.79" fill="url(#grn)" stroke="#0a600a" stroke-width="0.5"/>
<rect x="256.55" y="289.02" width="15.10" height="2.88" fill="#ee1c1c"/>
<rect x="256.80" y="189.15" width="14.60" height="102.75" fill="none" stroke="#1d4a3c" stroke-opacity="0.55" stroke-width="0.5"/>
<rect x="290.75" y="188.90" width="15.10" height="3.91" fill="#28a07c" stroke="#1f6f58" stroke-width="0.5"/>
<rect x="290.75" y="192.81" width="15.10" height="96.20" fill="url(#grn)" stroke="#0a600a" stroke-width="0.5"/>
<rect x="290.75" y="289.02" width="15.10" height="2.88" fill="#ee1c1c"/>
<rect x="291.00" y="189.15" width="14.60" height="102.75" fill="none" stroke="#1d4a3c" stroke-opacity="0.55" stroke-width="0.5"/>
<rect x="324.95" y="188.90" width="15.10" height="2.06" fill="#28a07c" stroke="#1f6f58" stroke-width="0.5"/>
<rect x="324.95" y="190.96" width="15.10" height="98.06" fill="url(#grn)" stroke="#0a600a" stroke-width="0.5"/>
<rect x="324.95" y="289.02" width="15.10" height="2.88" fill="#ee1c1c"/>
<rect x="325.20" y="189.15" width="14.60" height="102.75" fill="none" stroke="#1d4a3c" stroke-opacity="0.55" stroke-width="0.5"/>
<rect x="359.15" y="188.90" width="15.10" height="0.00" fill="#28a07c" stroke="#1f6f58" stroke-width="0.5"/>
<rect x="359.15" y="188.90" width="15.10" height="100.12" fill="url(#grn)" stroke="#0a600a" stroke-width="0.5"/>
<rect x="359.15" y="289.02" width="15.10" height="2.88" fill="#ee1c1c"/>
<rect x="359.40" y="189.15" width="14.60" height="102.75" fill="none" stroke="#1d4a3c" stroke-opacity="0.55" stroke-width="0.5"/>
<rect x="280" y="245" width="70" height="12.199999999999989" fill="#fff"/>
<polygon points="247.00,198.00 248.15,200.32 250.71,200.69 248.85,202.50 249.29,205.06 247.00,203.85 244.71,205.06 245.15,202.50 243.29,200.69 245.85,200.32" fill="#f01414"/>
<polygon points="264.10,194.70 265.25,197.02 267.81,197.39 265.95,199.20 266.39,201.76 264.10,200.55 261.81,201.76 262.25,199.20 260.39,197.39 262.95,197.02" fill="#f01414"/>
<polygon points="298.30,192.70 299.45,195.02 302.01,195.39 300.15,197.20 300.59,199.76 298.30,198.55 296.01,199.76 296.45,197.20 294.59,195.39 297.15,195.02" fill="#f01414"/>
<polygon points="332.50,189.70 333.65,192.02 336.21,192.39 334.35,194.20 334.79,196.76 332.50,195.55 330.21,196.76 330.65,194.20 328.79,192.39 331.35,192.02" fill="#f01414"/>
<polygon points="366.70,189.70 367.85,192.02 370.41,192.39 368.55,194.20 368.99,196.76 366.70,195.55 364.41,196.76 364.85,194.20 362.99,192.39 365.55,192.02" fill="#f01414"/>
<polygon points="288.70,248.10 289.85,250.42 292.41,250.79 290.55,252.60 290.99,255.16 288.70,253.95 286.41,255.16 286.85,252.60 284.99,250.79 287.55,250.42" fill="#f01414"/>
<text x="303.7" y="255.1" font-size="9.6" text-anchor="start" font-weight="normal" stroke="#1a1a1a" stroke-width="0.15" fill="#1a1a1a">conversion</text>
<line x1="232.4" y1="187.4" x2="232.4" y2="293.3" stroke="#6a6a6a" stroke-width="0.9"/>
<line x1="232.4" y1="293.3" x2="382.4" y2="293.3" stroke="#6a6a6a" stroke-width="0.9"/>
<line x1="230.20000000000002" y1="293.30" x2="232.4" y2="293.30" stroke="#6a6a6a" stroke-width="0.8"/>
<line x1="230.9" y1="282.89" x2="232.4" y2="282.89" stroke="#6a6a6a" stroke-width="0.8"/>
<line x1="230.20000000000002" y1="272.48" x2="232.4" y2="272.48" stroke="#6a6a6a" stroke-width="0.8"/>
<line x1="230.9" y1="262.07" x2="232.4" y2="262.07" stroke="#6a6a6a" stroke-width="0.8"/>
<line x1="230.20000000000002" y1="251.66" x2="232.4" y2="251.66" stroke="#6a6a6a" stroke-width="0.8"/>
<line x1="230.9" y1="241.25" x2="232.4" y2="241.25" stroke="#6a6a6a" stroke-width="0.8"/>
<line x1="230.20000000000002" y1="230.84" x2="232.4" y2="230.84" stroke="#6a6a6a" stroke-width="0.8"/>
<line x1="230.9" y1="220.43" x2="232.4" y2="220.43" stroke="#6a6a6a" stroke-width="0.8"/>
<line x1="230.20000000000002" y1="210.02" x2="232.4" y2="210.02" stroke="#6a6a6a" stroke-width="0.8"/>
<line x1="230.9" y1="199.61" x2="232.4" y2="199.61" stroke="#6a6a6a" stroke-width="0.8"/>
<line x1="230.20000000000002" y1="189.20" x2="232.4" y2="189.20" stroke="#6a6a6a" stroke-width="0.8"/>
<text x="229.1" y="297.08" font-size="10.5" text-anchor="end" font-weight="normal" stroke="#1a1a1a" stroke-width="0.15" fill="#1a1a1a">0</text>
<text x="229.1" y="276.26" font-size="10.5" text-anchor="end" font-weight="normal" stroke="#1a1a1a" stroke-width="0.15" fill="#1a1a1a">20</text>
<text x="229.1" y="255.44" font-size="10.5" text-anchor="end" font-weight="normal" stroke="#1a1a1a" stroke-width="0.15" fill="#1a1a1a">40</text>
<text x="229.1" y="234.62" font-size="10.5" text-anchor="end" font-weight="normal" stroke="#1a1a1a" stroke-width="0.15" fill="#1a1a1a">60</text>
<text x="229.1" y="213.80" font-size="10.5" text-anchor="end" font-weight="normal" stroke="#1a1a1a" stroke-width="0.15" fill="#1a1a1a">80</text>
<text x="229.1" y="192.98" font-size="10.5" text-anchor="end" font-weight="normal" stroke="#1a1a1a" stroke-width="0.15" fill="#1a1a1a">100</text>
<line x1="247.00" y1="293.3" x2="247.00" y2="295.10" stroke="#6a6a6a" stroke-width="0.7"/>
<line x1="264.10" y1="293.3" x2="264.10" y2="295.10" stroke="#6a6a6a" stroke-width="0.7"/>
<line x1="281.20" y1="293.3" x2="281.20" y2="295.10" stroke="#6a6a6a" stroke-width="0.7"/>
<line x1="298.30" y1="293.3" x2="298.30" y2="295.10" stroke="#6a6a6a" stroke-width="0.7"/>
<line x1="315.40" y1="293.3" x2="315.40" y2="295.10" stroke="#6a6a6a" stroke-width="0.7"/>
<line x1="332.50" y1="293.3" x2="332.50" y2="295.10" stroke="#6a6a6a" stroke-width="0.7"/>
<line x1="349.60" y1="293.3" x2="349.60" y2="295.10" stroke="#6a6a6a" stroke-width="0.7"/>
<line x1="366.70" y1="293.3" x2="366.70" y2="295.10" stroke="#6a6a6a" stroke-width="0.7"/>
<text x="247.00" y="304.2" font-size="9.8" text-anchor="middle" font-weight="normal" stroke="#1a1a1a" stroke-width="0.15" fill="#1a1a1a">1</text>
<text x="264.03" y="304.2" font-size="9.8" text-anchor="middle" font-weight="normal" stroke="#1a1a1a" stroke-width="0.15" fill="#1a1a1a">2</text>
<text x="281.06" y="304.2" font-size="9.8" text-anchor="middle" font-weight="normal" stroke="#1a1a1a" stroke-width="0.15" fill="#1a1a1a">3</text>
<text x="298.09" y="304.2" font-size="9.8" text-anchor="middle" font-weight="normal" stroke="#1a1a1a" stroke-width="0.15" fill="#1a1a1a">4</text>
<text x="315.12" y="304.2" font-size="9.8" text-anchor="middle" font-weight="normal" stroke="#1a1a1a" stroke-width="0.15" fill="#1a1a1a">5</text>
<text x="332.15" y="304.2" font-size="9.8" text-anchor="middle" font-weight="normal" stroke="#1a1a1a" stroke-width="0.15" fill="#1a1a1a">6</text>
<text x="349.18" y="304.2" font-size="9.8" text-anchor="middle" font-weight="normal" stroke="#1a1a1a" stroke-width="0.15" fill="#1a1a1a">7</text>
<text x="366.21" y="304.2" font-size="9.8" text-anchor="middle" font-weight="normal" stroke="#1a1a1a" stroke-width="0.15" fill="#1a1a1a">8</text>
<text x="290" y="314.3" font-size="9.6" text-anchor="start" font-weight="normal" stroke="#1a1a1a" stroke-width="0.15" fill="#1a1a1a">Time / h</text>
<text transform="translate(212.0,301) rotate(-90)" font-size="11.2" textLength="118" lengthAdjust="spacingAndGlyphs" fill="#1a1a1a" stroke="#1a1a1a" stroke-width="0.15">Conversion / Selectivity / %</text>
<rect x="218.2" y="175.3" width="18.4" height="9.4" fill="#28a07c" stroke="#333" stroke-width="0.3"/>
<text x="239" y="183.9" font-size="9.3" textLength="31.7" lengthAdjust="spacingAndGlyphs" fill="#1a1a1a" stroke="#1a1a1a" stroke-width="0.12">peroxide</text>
<rect x="277.6" y="175.3" width="18.8" height="9.4" fill="url(#grn)" stroke="#333" stroke-width="0.3"/>
<text x="298.3" y="183.9" font-size="9.3" textLength="29.0" lengthAdjust="spacingAndGlyphs" fill="#1a1a1a" stroke="#1a1a1a" stroke-width="0.12">epoxide</text>
<rect x="330" y="175.3" width="18.8" height="9.4" fill="#ee1c1c" stroke="#333" stroke-width="0.3"/>
<text x="351" y="183.9" font-size="9.3" textLength="33.5" lengthAdjust="spacingAndGlyphs" fill="#1a1a1a" stroke="#1a1a1a" stroke-width="0.12">aldehyde</text>
<text x="256.2" y="341.0" font-size="9.60" font-weight="bold" fill="#1a1a1a">(d)</text>
<text x="270.9" y="341.0" font-size="10.0" textLength="48.3" lengthAdjust="spacingAndGlyphs" fill="#1a1a1a" stroke="#1a1a1a" stroke-width="0.15">0.66 mol %</text>
</svg></body></html>
